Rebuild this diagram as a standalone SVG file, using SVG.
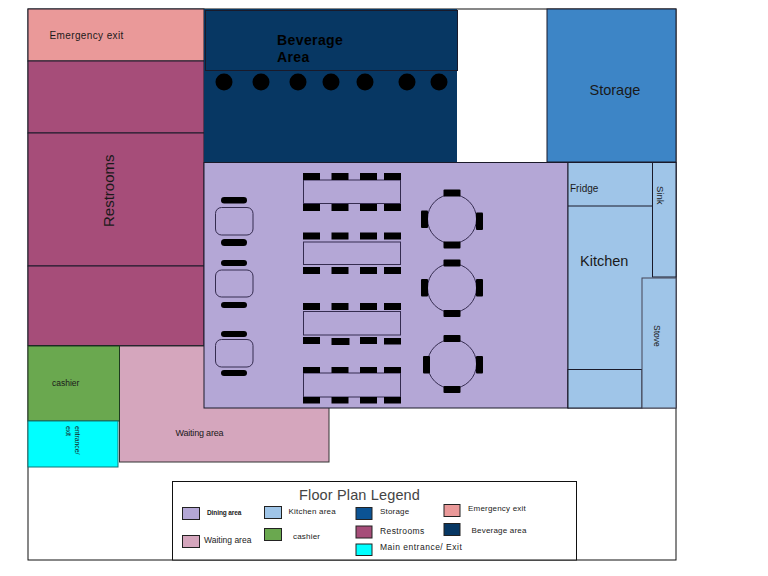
<svg xmlns="http://www.w3.org/2000/svg" width="768" height="576" viewBox="0 0 768 576">
<style>
text{font-family:"Liberation Sans",Arial,sans-serif;fill:#1a1a1a}
.r{stroke:#1a1a2a;stroke-width:1}
.t{fill:#b4a7d6;stroke:#352c50;stroke-width:1}
.c{fill:#000}
.s{stroke:#222;stroke-width:1}
.l{font-size:8px;letter-spacing:.2px}
.b{fill:#000;font-weight:bold;font-size:14px;letter-spacing:.4px}
.h{fill:#444;font-size:14.500px;letter-spacing:.15px}
</style>
<rect width="768" height="576" fill="#fff"/>
<g id="outline"><rect x="28" y="9" width="648" height="551" fill="#fff" stroke="#111" stroke-width="1"/></g>
<g id="emergency-exit"><rect class="r" x="28" y="9" width="176" height="52" fill="#ea9999"/><text x="49.500" y="39" font-size="10" letter-spacing=".38">Emergency exit</text></g>
<g id="restrooms"><rect class="r" x="28" y="61" width="176" height="72" fill="#a64d79"/><rect class="r" x="28" y="133" width="176" height="133" fill="#a64d79"/><rect class="r" x="28" y="266" width="176" height="79.500" fill="#a64d79"/><text transform="translate(114,227) rotate(-90)" font-size="15">Restrooms</text></g>
<g id="beverage-area"><rect x="204" y="9" width="253" height="153" fill="#073763"/><rect class="r" x="205.500" y="10.500" width="252" height="60" fill="#073763"/><text class="b" x="277" y="45">Beverage</text><text class="b" x="277" y="62">Area</text>
<circle class="c" cx="224" cy="82" r="8.500"/><circle class="c" cx="261" cy="82" r="8.500"/><circle class="c" cx="298" cy="82" r="8.500"/><circle class="c" cx="331" cy="82" r="8.500"/><circle class="c" cx="365" cy="82" r="8.500"/><circle class="c" cx="407" cy="82" r="8.500"/><circle class="c" cx="439" cy="82" r="8.500"/></g>
<g id="storage"><rect class="r" x="547" y="9" width="129" height="153" fill="#3d85c6"/><text x="589.500" y="95" font-size="14.500">Storage</text></g>
<g id="waiting-area"><rect x="119.500" y="346" width="209.500" height="116" fill="#d5a6bd" stroke="#333"/><text x="175.500" y="436" font-size="9" letter-spacing="-.2">Waiting area</text></g>
<g id="dining-area"><rect class="r" x="204" y="162.500" width="364" height="245.500" fill="#b4a7d6"/>
<g id="long-table-1"><rect class="t" x="303.500" y="180" width="97" height="23.500"/><rect class="c" x="303" y="173" width="17" height="7"/><rect class="c" x="331.500" y="173" width="17" height="7"/><rect class="c" x="360" y="173" width="17" height="7"/><rect class="c" x="384" y="173" width="17" height="7"/><rect class="c" x="303" y="204" width="17" height="7"/><rect class="c" x="331.500" y="204" width="17" height="7"/><rect class="c" x="360" y="204" width="17" height="7"/><rect class="c" x="384" y="204" width="17" height="7"/></g>
<g id="long-table-2"><rect class="t" x="303.500" y="242" width="97" height="22.500"/><rect class="c" x="303" y="232.500" width="17" height="7"/><rect class="c" x="331.500" y="232.500" width="17" height="7"/><rect class="c" x="360" y="232.500" width="17" height="7"/><rect class="c" x="384" y="232.500" width="17" height="7"/><rect class="c" x="303" y="267" width="17" height="7"/><rect class="c" x="331.500" y="267" width="17" height="7"/><rect class="c" x="360" y="267" width="17" height="7"/><rect class="c" x="384" y="267" width="17" height="7"/></g>
<g id="long-table-3"><rect class="t" x="303.500" y="311.500" width="97" height="23.500"/><rect class="c" x="303" y="303" width="17" height="7"/><rect class="c" x="331.500" y="303" width="17" height="7"/><rect class="c" x="360" y="303" width="17" height="7"/><rect class="c" x="384" y="303" width="17" height="7"/><rect class="c" x="303" y="337" width="17" height="7"/><rect class="c" x="331.500" y="338" width="18" height="7"/><rect class="c" x="360" y="337" width="17" height="7"/><rect class="c" x="384" y="338" width="17" height="6.500"/></g>
<g id="long-table-4"><rect class="t" x="303.500" y="373" width="97" height="24"/><rect class="c" x="303" y="367" width="17" height="6"/><rect class="c" x="331.500" y="367" width="17" height="6"/><rect class="c" x="360" y="367" width="17" height="6"/><rect class="c" x="384" y="367" width="17" height="6"/><rect class="c" x="303" y="397" width="17" height="6.500"/><rect class="c" x="331.500" y="397" width="17" height="6.500"/><rect class="c" x="360" y="397" width="17" height="6.500"/><rect class="c" x="384" y="397" width="17" height="6.500"/></g>
<g id="round-table-1"><circle class="t" cx="452" cy="219" r="24.500"/><rect class="c" x="443.500" y="189.500" width="17" height="7" rx="1"/><rect class="c" x="443.500" y="241.500" width="17" height="7" rx="1"/><rect class="c" x="421" y="210.500" width="7" height="17.500" rx="1"/><rect class="c" x="476" y="212.500" width="7" height="17.500" rx="1"/></g>
<g id="round-table-2"><circle class="t" cx="452" cy="288" r="24.500"/><rect class="c" x="443.500" y="259.500" width="17" height="7" rx="1"/><rect class="c" x="443.500" y="310" width="17" height="7" rx="1"/><rect class="c" x="421" y="279" width="7" height="17.500" rx="1"/><rect class="c" x="476" y="279" width="7" height="17.500" rx="1"/></g>
<g id="round-table-3"><circle class="t" cx="452" cy="364" r="24.500"/><rect class="c" x="443.500" y="335" width="17" height="7" rx="1"/><rect class="c" x="443.500" y="386" width="17" height="7" rx="1"/><rect class="c" x="423" y="356" width="7" height="17.500" rx="1"/><rect class="c" x="476" y="356" width="7" height="17.500" rx="1"/></g>
<g id="square-table-1"><rect class="t" x="215.500" y="207.500" width="37.500" height="27.500" rx="6"/><rect class="c" x="221" y="197" width="26" height="6.500" rx="3.250"/><rect class="c" x="221" y="239" width="26" height="7" rx="3.500"/></g>
<g id="square-table-2"><rect class="t" x="215.500" y="270" width="37.500" height="27" rx="6"/><rect class="c" x="221" y="260" width="26" height="6" rx="3"/><rect class="c" x="221" y="302" width="26" height="6" rx="3"/></g>
<g id="square-table-3"><rect class="t" x="215.500" y="339.500" width="37.500" height="27.500" rx="6"/><rect class="c" x="221" y="331" width="26" height="6" rx="3"/><rect class="c" x="221" y="370" width="26" height="6" rx="3"/></g>
</g>
<g id="kitchen"><rect class="r" x="568" y="162.500" width="108" height="245.500" fill="#9fc5e8"/><line class="r" x1="568" y1="206" x2="652.500" y2="206"/><text x="570" y="192" font-size="10">Fridge</text><text x="580" y="266" font-size="14.500">Kitchen</text><rect class="r" x="652.500" y="162.500" width="23.500" height="114.500" fill="#9fc5e8"/><text transform="translate(656.500,186) rotate(90)" font-size="9.500">Sink</text><rect class="r" x="568" y="369.500" width="74" height="38.500" fill="#9fc5e8"/><rect x="642" y="278" width="34" height="130" fill="#9fc5e8" stroke="#445"/><text transform="translate(653.500,325) rotate(90)" font-size="8.500">Stove</text></g>
<g id="cashier"><rect x="28" y="346" width="91.500" height="75" fill="#6aa84f" stroke="#1e3a1e"/><text x="52" y="386" font-size="8.500">cashier</text></g>
<g id="entrance"><rect x="28" y="421" width="90" height="46" fill="#00ffff" stroke="#117777"/><text transform="translate(74.500,426) rotate(90)" font-size="7" letter-spacing="-.1">entrance/</text><text transform="translate(66,426) rotate(90)" font-size="7" letter-spacing="-.3">exit</text></g>
<g id="legend"><rect x="172.500" y="481.500" width="404" height="78.500" fill="#fff" stroke="#111"/><text class="h" x="299" y="500">Floor Plan Legend</text>
<rect class="s" x="182.500" y="507.500" width="17" height="12" fill="#b4a7d6"/><text x="207" y="515" font-size="6.500" font-weight="bold" letter-spacing="-.1">Dining area</text>
<rect class="s" x="264.500" y="506.500" width="17" height="12" fill="#9fc5e8"/><text class="l" x="288.500" y="514">Kitchen area</text>
<rect class="s" x="356" y="507.500" width="16" height="12" fill="#0b5394"/><text class="l" x="380" y="514">Storage</text>
<rect class="s" x="444" y="504.500" width="16" height="12" fill="#ea9999"/><text class="l" x="468" y="511">Emergency exit</text>
<rect class="s" x="182.500" y="535.500" width="17" height="12" fill="#d5a6bd"/><text x="204" y="543" font-size="8.500">Waiting area</text>
<rect class="s" x="264.500" y="528.500" width="17" height="12" fill="#6aa84f"/><text class="l" x="293" y="539">cashier</text>
<rect class="s" x="356" y="526" width="16" height="12" fill="#a64d79"/><text x="380" y="534" font-size="8.500" letter-spacing=".4">Restrooms</text>
<rect class="s" x="444" y="523.500" width="16" height="12" fill="#073763"/><text class="l" x="471.500" y="533">Beverage area</text>
<rect class="s" x="356" y="544" width="16" height="11.500" fill="#00ffff"/><text x="380" y="550" font-size="8.500" letter-spacing=".5">Main entrance/ Exit</text></g>
</svg>
